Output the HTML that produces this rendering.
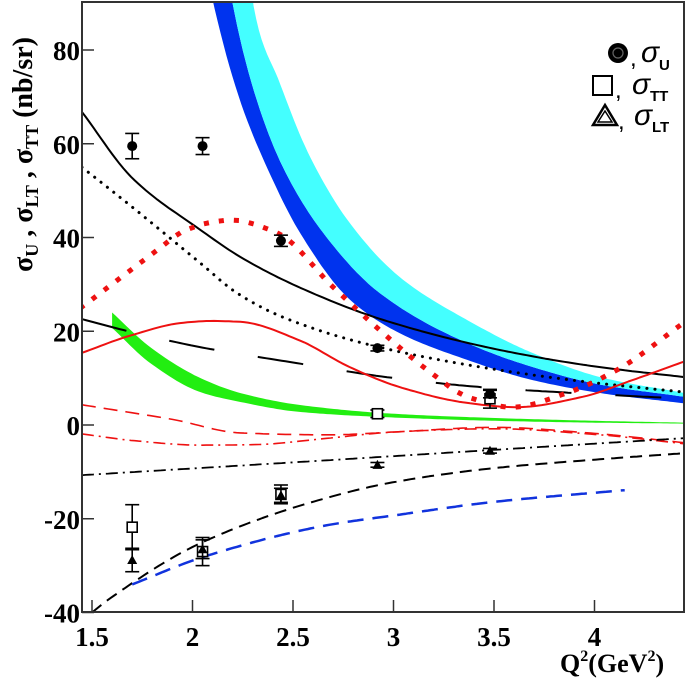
<!DOCTYPE html>
<html><head><meta charset="utf-8">
<style>
html,body{margin:0;padding:0;background:#fff;}
svg{display:block;}
text{font-family:"Liberation Serif",serif;font-weight:bold;}
</style></head>
<body>
<svg id="chart" width="685" height="680" viewBox="0 0 685 680" xmlns="http://www.w3.org/2000/svg">
<defs><clipPath id="pc"><rect x="83" y="2" width="601" height="610"/></clipPath></defs>
<g id="bands" clip-path="url(#pc)"></g>
<g id="curves" clip-path="url(#pc)"></g>
<g id="points"></g>
<g id="axes"></g>
<g>
  <circle cx="618" cy="53" r="10" fill="#000"/>
  <circle cx="618" cy="53" r="5" fill="none" stroke="#666" stroke-width="1.2"/>
  <text x="630" y="66" font-size="24" style="font-family:'Liberation Sans',sans-serif;font-weight:normal">,</text>
  <text x="641" y="62" font-size="30" style="font-family:'Liberation Sans',sans-serif;font-weight:normal;font-style:italic">σ</text>
  <text x="659" y="70" font-size="15" style="font-family:'Liberation Sans',sans-serif">U</text>
  <rect x="593" y="76" width="19" height="19" fill="#fff" stroke="#000" stroke-width="2"/>
  <text x="615" y="98" font-size="24" style="font-family:'Liberation Sans',sans-serif;font-weight:normal">,</text>
  <text x="632" y="94" font-size="30" style="font-family:'Liberation Sans',sans-serif;font-weight:normal;font-style:italic">σ</text>
  <text x="650" y="101" font-size="15" style="font-family:'Liberation Sans',sans-serif">TT</text>
  <polygon points="593,125 605,105 617,125" fill="#fff" stroke="#000" stroke-width="2.5"/>
  <polygon points="598,122 605,111 612,122" fill="none" stroke="#000" stroke-width="1.5"/>
  <text x="618" y="129" font-size="24" style="font-family:'Liberation Sans',sans-serif;font-weight:normal">,</text>
  <text x="634" y="125" font-size="30" style="font-family:'Liberation Sans',sans-serif;font-weight:normal;font-style:italic">σ</text>
  <text x="652" y="132" font-size="15" style="font-family:'Liberation Sans',sans-serif">LT</text>
</g>
<g transform="translate(32,272) rotate(-90)">
  <text x="0" y="0" font-size="28">σ<tspan font-size="18" dy="6">U</tspan><tspan dy="-6"> , σ</tspan><tspan font-size="18" dy="6">LT</tspan><tspan dy="-6"> , σ</tspan><tspan font-size="18" dy="6">TT</tspan><tspan dy="-6"> (nb/sr)</tspan></text>
</g>
<g>
  <text x="560" y="672" font-size="26">Q<tspan font-size="16" dy="-11">2</tspan><tspan dy="11">(GeV</tspan><tspan font-size="16" dy="-11">2</tspan><tspan dy="11">)</tspan></text>
</g>
</svg>
<script>
// ---- data ----
const xTicks=[1.5,2,2.5,3,3.5,4];
const xTickLabels=["1.5","2","2.5","3","3.5","4"];
const yTicks=[-40,-20,0,20,40,60,80];
const yTickLabels=["-40","-20","0","20","40","60","80"];

const q2Points=[1.70,2.05,2.44,2.92,3.48];
const sigmaU=[59.5,59.5,39.3,16.4,6.6];
const sigmaUErr=[2.7,1.8,1.2,0.6,0.8];
const sigmaTT=[-21.8,-27.0,-14.8,2.4,5.6];
const sigmaTTErr=[4.8,3.0,2.0,0.8,2.0];
const sigmaLT=[-28.8,-26.5,-15.0,-8.5,-5.5];
const sigmaLTErr=[2.5,2.0,1.5,0.5,0.5];

const blackSolidQ=[1.45,1.70,2.04,2.24,2.53,2.95,3.53,4.00,4.45];
const blackSolidV=[66.8,52.7,41.6,35.8,29.4,22.4,16.0,12.5,10.2];
const blackDotQ=[1.45,1.70,2.04,2.22,2.45,2.92,3.53,4.00,4.45];
const blackDotV=[55.0,46.5,34.5,28.2,23.0,16.7,11.7,9.0,7.0];
const blackLongDashQ=[1.45,1.70,2.04,2.49,2.97,3.43,3.91,4.45];
const blackLongDashV=[22.6,19.8,16.6,13.4,10.2,8.1,6.8,5.6];
const redSolidQ=[1.45,1.70,1.95,2.10,2.24,2.53,2.78,3.03,3.37,3.61,3.94,4.19,4.45];
const redSolidV=[15.4,19.2,21.8,22.2,22.0,18.1,12.4,8.1,4.7,3.8,6.0,9.6,13.6];
const redDotQ=[1.45,1.58,1.70,1.83,1.95,2.10,2.19,2.42,2.70,2.93,3.17,3.37,3.59,3.86,4.11,4.45];
const redDotV=[25.2,29.4,33.3,37.5,41.2,43.3,43.7,41.0,29.4,20.3,11.7,6.0,3.8,6.8,11.7,22.0];
const redDashQ=[1.45,1.70,1.90,2.24,2.68,3.00,3.50,4.00,4.45];
const redDashV=[4.3,2.6,1.2,-1.7,-2.1,-1.5,-0.5,-1.8,-3.8];
const redDashDotQ=[1.45,1.70,2.04,2.30,2.68,3.00,3.50,4.00,4.45];
const redDashDotV=[-1.9,-3.3,-4.3,-4.2,-2.8,-1.5,-0.8,-2.0,-4.0];
const blackDashDotQ=[1.45,2.68,3.50,4.45];
const blackDashDotV=[-10.7,-7.5,-5.3,-2.8];
const blackDashQ=[1.50,1.58,2.05,2.68,3.00,3.50,4.00,4.45];
const blackDashV=[-40.0,-37.3,-25.0,-15.4,-12.2,-9.2,-7.4,-6.0];
const blueDashQ=[1.70,2.05,2.68,3.00,3.50,4.15];
const blueDashV=[-34.0,-28.2,-21.3,-19.3,-16.4,-13.9];

const greenTopQ=[1.60,1.79,2.04,2.24,2.53,3.00,3.50,4.00,4.45];
const greenTopV=[24.0,16.6,10.0,6.8,4.3,2.4,1.5,0.9,0.5];
const greenBotQ=[1.60,1.79,2.04,2.24,2.53,3.00,3.50,4.00,4.45];
const greenBotV=[20.7,13.2,7.0,4.9,2.8,1.6,0.9,0.5,0.3];

const darkLeftQ=[2.08,2.10,2.236,2.37,2.535,2.784,3.03,3.366,3.69,4.03,4.45];
const darkLeftV=[95,90.7,69.3,55.0,41.0,26.7,19.6,13.9,9.6,6.8,4.6];
const midQ=[2.18,2.196,2.32,2.45,2.65,2.93,3.366,3.69,4.03,4.45];
const midV=[95,90.7,69.3,55.0,41.0,28.2,17.5,12.4,8.6,6.0];
const cyanRightQ=[2.29,2.30,2.435,2.585,2.784,3.03,3.366,3.69,4.03,4.45];
const cyanRightV=[95,90.3,72.9,57.2,43.0,31.6,22.4,15.4,10.2,6.8];

// ---- axes ----
const X=q=>92+(q-1.5)*201;
const Y=v=>425-v*4.6875;
const NS="http://www.w3.org/2000/svg";
function mk(tag,attrs,parent){const e=document.createElementNS(NS,tag);for(const k in attrs)e.setAttribute(k,attrs[k]);parent.appendChild(e);return e;}
// monotone cubic (Fritsch-Carlson) interpolation in data space
function interp(xs,ys){const n=xs.length,d=[],m=[];
 for(let i=0;i<n-1;i++)d.push((ys[i+1]-ys[i])/(xs[i+1]-xs[i]));
 m[0]=d[0];m[n-1]=d[n-2];
 for(let i=1;i<n-1;i++){ if(d[i-1]*d[i]<=0)m[i]=0; else {const w1=2*(xs[i+1]-xs[i])+(xs[i]-xs[i-1]),w2=(xs[i+1]-xs[i])+2*(xs[i]-xs[i-1]);m[i]=(w1+w2)/(w1/d[i-1]+w2/d[i]);}}
 return x=>{let i=0;while(i<n-2&&x>xs[i+1])i++;const h=xs[i+1]-xs[i],t=(x-xs[i])/h,t2=t*t,t3=t2*t;
  return (2*t3-3*t2+1)*ys[i]+(t3-2*t2+t)*h*m[i]+(-2*t3+3*t2)*ys[i+1]+(t3-t2)*h*m[i+1];};}
function sample(qs,vs){const f=interp(qs,vs),a=qs[0],b=qs[qs.length-1],out=[];
 for(let k=0;k<=160;k++){const q=a+(b-a)*k/160;out.push([X(q),Y(f(q))]);}return out;}
function pathOf(p){return "M"+p.map(s=>s[0].toFixed(1)+","+s[1].toFixed(1)).join(" L");}
function band(tq,tv,bq,bv,color,name){const a=sample(tq,tv),b=sample(bq,bv).reverse();
 const e=mk("path",{d:pathOf(a.concat(b))+" Z",fill:color,stroke:"none"},document.getElementById("bands"));
 
 }
band(midQ,midV,darkLeftQ,darkLeftV,"#0033ee","dark-blue-band");
band(cyanRightQ,cyanRightV,midQ,midV,"#44ffff","cyan-band");
band(greenTopQ,greenTopV,greenBotQ,greenBotV,"#22ee11","green-band");

const cg=document.getElementById("curves");
function curve(qs,vs,color,w,dash,cap,name){const e=mk("path",{d:pathOf(sample(qs,vs)),fill:"none",stroke:color,"stroke-width":w,"stroke-linecap":cap||"butt","stroke-linejoin":"round"},cg);
 if(dash)e.setAttribute("stroke-dasharray",dash);
 
 }
curve(blackSolidQ,blackSolidV,"#000",2,null,null,"black-solid-curve");
curve(blackDotQ,blackDotV,"#000",3,"0.1 8","round","black-dotted-curve");
curve(blackLongDashQ,blackLongDashV,"#000",2,"46 44",null,"black-long-dash-curve");
curve(redSolidQ,redSolidV,"#ee1111",2,null,null,"red-solid-curve");
curve(redDotQ,redDotV,"#ee1111",5,"0.1 15","square","red-dotted-curve");
curve(redDashQ,redDashV,"#ee1111",1.6,"14 8",null,"red-dashed-curve");
curve(redDashDotQ,redDashDotV,"#ee1111",1.6,"12 5 2 5",null,"red-dash-dot-curve");
curve(blackDashDotQ,blackDashDotV,"#000",1.8,"12 5 2 5",null,"black-dash-dot-curve");
curve(blackDashQ,blackDashV,"#000",2,"12 7",null,"black-dashed-curve");
curve(blueDashQ,blueDashV,"#1133dd",2.5,"16 9",null,"blue-dashed-curve");

const pg=document.getElementById("points");
function errbar(q,v,e){const x=X(q);
 const l=mk("line",{x1:x,x2:x,y1:Y(v+e),y2:Y(v-e),stroke:"#000","stroke-width":1.6},pg);
 
 
 [v+e,v-e].forEach(t=>{const c=mk("line",{x1:x-7,x2:x+7,y1:Y(t),y2:Y(t),stroke:"#000","stroke-width":1.6},pg);
  
  });}
q2Points.forEach((q,i)=>{
 errbar(q,sigmaTT[i],sigmaTTErr[i]);
 const r=mk("rect",{x:X(q)-5,y:Y(sigmaTT[i])-5,width:10,height:10,fill:"#fff",stroke:"#000","stroke-width":1.6},pg);
 
 
 errbar(q,sigmaLT[i],sigmaLTErr[i]);
 const x=X(q),y=Y(sigmaLT[i]);
 const t=mk("polygon",{points:(x-5)+","+(y+4)+" "+x+","+(y-5)+" "+(x+5)+","+(y+4),fill:"#000"},pg);
 
 
 errbar(q,sigmaU[i],sigmaUErr[i]);
 const c=mk("circle",{cx:X(q),cy:Y(sigmaU[i]),r:5,fill:"#000"},pg);
 
 
});

const ag=document.getElementById("axes");
const fr=mk("path",{d:"M82,2 H684 V612 H82 Z",fill:"none",stroke:"#333","stroke-width":2},ag);


xTicks.forEach((q,i)=>{const x=X(q);
 const t=mk("line",{x1:x,x2:x,y1:612,y2:600,stroke:"#333","stroke-width":1.5},ag);
 
 
 const lb=mk("text",{x:x,y:646,"font-size":27,"text-anchor":"middle"},ag);
 lb.textContent=xTickLabels[i];
 
 });
yTicks.forEach((v,i)=>{const y=Y(v);
 const t=mk("line",{x1:82,x2:94,y1:y,y2:y,stroke:"#333","stroke-width":1.5},ag);
 
 
 const lb=mk("text",{x:80,y:y+10,"font-size":27,"text-anchor":"end"},ag);
 lb.textContent=yTickLabels[i];
 
 });
</script>
</body></html>
